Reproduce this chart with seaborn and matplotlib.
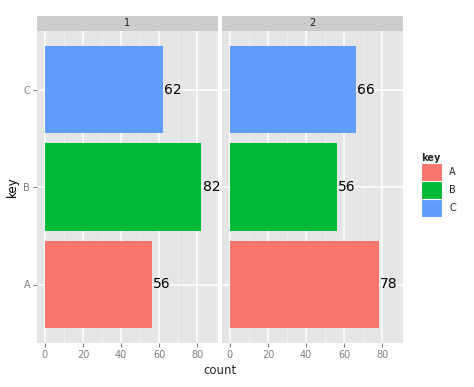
import numpy as np
import pandas as pd
import matplotlib
matplotlib.use("Agg")
import matplotlib.pyplot as plt
from matplotlib.patches import Patch
import seaborn as sns

# data
keys = ["A", "B", "C"]
panels = ["1", "2"]
counts_1 = [56, 82, 62]
counts_2 = [78, 56, 66]
key_colors = ["#F8766D", "#00BA38", "#619CFF"]

df = pd.DataFrame({
    "panel": np.repeat(panels, len(keys)),
    "key": keys * len(panels),
    "count": counts_1 + counts_2,
})

sns.set_theme(style="white")
plt.rcParams["font.family"] = ["DejaVu Sans"]

W, H = 474, 387
fig = plt.figure(figsize=(W / 100, H / 100), dpi=100)
fig.patch.set_facecolor("white")

palette = dict(zip(keys, key_colors))
panel_left = [37, 222]
panel_w = 181
top, bottom = 31, 343
strip_h = 15

for i, p in enumerate(panels):
    ax = fig.add_axes([panel_left[i] / W, (H - bottom) / H, panel_w / W, (bottom - top) / H])
    sub = df[df["panel"] == p]
    sns.barplot(data=sub, x="count", y="key", hue="key", order=["C", "B", "A"],
                palette=palette, width=0.9, legend=False, ax=ax, zorder=3,
                saturation=1, linewidth=0, edgecolor="none")
    ax.set_facecolor("#E5E5E5")
    ax.set_xlim(-4.1, 90.8)
    ax.set_ylim(2.6, -0.6)
    ax.set_xticks([0, 20, 40, 60, 80])
    ax.set_xticks([10, 30, 50, 70, 90], minor=True)
    ax.grid(which="major", color="white", linewidth=1.1, zorder=1)
    ax.grid(which="minor", axis="x", color="#F2F2F2", linewidth=0.5, zorder=1)
    ax.set_axisbelow(True)
    for s in ax.spines.values():
        s.set_visible(False)
    ax.tick_params(axis="both", which="major", length=3, width=0.8, color="#7F7F7F",
                   labelcolor="#7F7F7F", labelsize=7, direction="out", pad=2,
                   bottom=True, left=(i == 0))
    ax.tick_params(axis="both", which="minor", length=0)
    ax.set_xlabel("")
    if i == 0:
        ax.set_ylabel("key", fontsize=8.5, color="black")
        ax.yaxis.set_label_coords(-0.1, 0.5)
    else:
        ax.set_ylabel("")
        ax.set_yticklabels([])
    for cont in ax.containers:
        ax.bar_label(cont, padding=1, fontsize=10, color="black")

    # facet strip
    sax = fig.add_axes([panel_left[i] / W, (H - top) / H, panel_w / W, strip_h / H])
    sax.set_facecolor("#CCCCCC")
    sax.set_xticks([])
    sax.set_yticks([])
    for s in sax.spines.values():
        s.set_visible(False)
    sax.text(0.5, 0.5, p, ha="center", va="center", fontsize=7, color="#1A1A1A",
             transform=sax.transAxes)

fig.text((37 + 404) / 2 / W, 1 - 371 / H, "count", ha="center", va="center", fontsize=8.5)

handles = [Patch(facecolor=c, edgecolor="white", linewidth=0.8, label=k)
           for k, c in zip(keys, key_colors)]
leg = fig.legend(handles=handles, title="key", loc="upper left",
                 bbox_to_anchor=(414 / W, 1 - 146 / H), frameon=False,
                 handlelength=2.2, handleheight=2.5, labelspacing=0.0,
                 handletextpad=0.7, fontsize=7, title_fontsize=7, alignment="left",
                 borderpad=0.2)
leg.get_title().set_fontweight("bold")

fig.savefig("out.png", dpi=100)
